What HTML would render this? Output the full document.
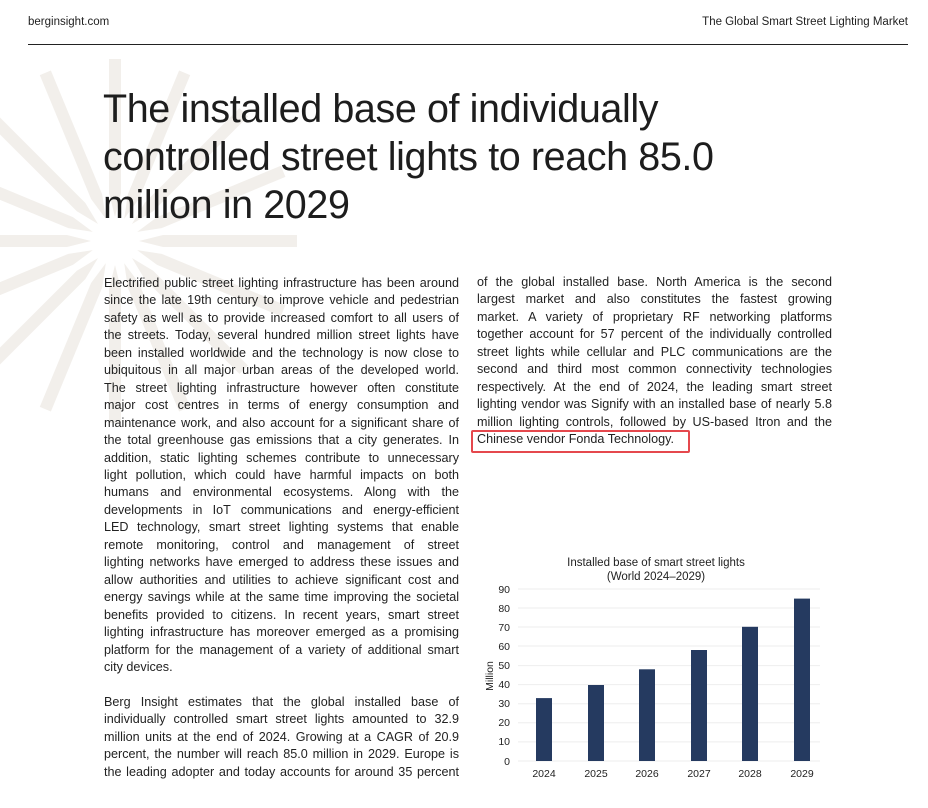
<!DOCTYPE html>
<html><head><meta charset="utf-8"><style>
*{margin:0;padding:0;box-sizing:border-box}
body{width:928px;height:808px;background:#fff;position:relative;overflow:hidden;font-family:"Liberation Sans",sans-serif;color:#222}
.hdr{position:absolute;top:16px;font-size:11.5px;color:#222}
.rule{position:absolute;left:28px;right:20px;top:44px;height:1px;background:#222}
h1{position:absolute;left:103px;top:85px;font-weight:normal;font-size:39.5px;line-height:48px;color:#1d1d1d;letter-spacing:-0.4px}
.col{position:absolute;font-size:12.6px;line-height:17.45px;color:#222}
.col div{text-align:justify;text-align-last:justify;white-space:nowrap;overflow:visible}
.col div.l{text-align-last:left}
</style></head><body>
<svg style="position:absolute;left:0;top:0" width="400" height="500">
<g fill="#f2efeb" id="rays"></g>
</svg>
<script>
var g=document.getElementById('rays'),cx=115,cy=241,s='';
for(var i=0;i<16;i++){var a=i*Math.PI/8;var rt=24,r0=48,r1=182,w=6;
var c=Math.cos(a),sn=Math.sin(a),px=-sn,py=c;
var p=[[cx+c*rt,cy+sn*rt],[cx+c*r0+px*w,cy+sn*r0+py*w],[cx+c*r1+px*w,cy+sn*r1+py*w],[cx+c*r1-px*w,cy+sn*r1-py*w],[cx+c*r0-px*w,cy+sn*r0-py*w]];
s+='<polygon points="'+p.map(function(q){return q.join(',')}).join(' ')+'"/>';}
g.innerHTML=s;
</script>
<div class="hdr" style="left:28px">berginsight.com</div>
<div class="hdr" style="right:20px">The Global Smart Street Lighting Market</div>
<div class="rule"></div>
<h1>The installed base of individually<br>controlled street lights to reach 85.0<br>million in 2029</h1>
<div class="col" style="left:104px;top:275px;width:355px">
<div>Electrified public street lighting infrastructure has been around</div>
<div>since the late 19th century to improve vehicle and pedestrian</div>
<div>safety as well as to provide increased comfort to all users of</div>
<div>the streets. Today, several hundred million street lights have</div>
<div>been installed worldwide and the technology is now close to</div>
<div>ubiquitous in all major urban areas of the developed world.</div>
<div>The street lighting infrastructure however often constitute</div>
<div>major cost centres in terms of energy consumption and</div>
<div>maintenance work, and also account for a significant share of</div>
<div>the total greenhouse gas emissions that a city generates. In</div>
<div>addition, static lighting schemes contribute to unnecessary</div>
<div>light pollution, which could have harmful impacts on both</div>
<div>humans and environmental ecosystems. Along with the</div>
<div>developments in IoT communications and energy-efficient</div>
<div>LED technology, smart street lighting systems that enable</div>
<div>remote monitoring, control and management of street</div>
<div>lighting networks have emerged to address these issues and</div>
<div>allow authorities and utilities to achieve significant cost and</div>
<div>energy savings while at the same time improving the societal</div>
<div>benefits provided to citizens. In recent years, smart street</div>
<div>lighting infrastructure has moreover emerged as a promising</div>
<div>platform for the management of a variety of additional smart</div>
<div class="l">city devices.</div>
<div class="l">&nbsp;</div>
<div>Berg Insight estimates that the global installed base of</div>
<div>individually controlled smart street lights amounted to 32.9</div>
<div>million units at the end of 2024. Growing at a CAGR of 20.9</div>
<div>percent, the number will reach 85.0 million in 2029. Europe is</div>
<div>the leading adopter and today accounts for around 35 percent</div>
</div>
<div class="col" style="left:477px;top:274px;width:355px">
<div>of the global installed base. North America is the second</div>
<div>largest market and also constitutes the fastest growing</div>
<div>market. A variety of proprietary RF networking platforms</div>
<div>together account for 57 percent of the individually controlled</div>
<div>street lights while cellular and PLC communications are the</div>
<div>second and third most common connectivity technologies</div>
<div>respectively. At the end of 2024, the leading smart street</div>
<div>lighting vendor was Signify with an installed base of nearly 5.8</div>
<div>million lighting controls, followed by US-based Itron and the</div>
<div class="l">Chinese vendor Fonda Technology.</div>
</div>
<div style="position:absolute;left:471px;top:430px;width:219px;height:23px;border:2px solid #e5484d;border-radius:2px"></div>
<svg style="position:absolute;left:0;top:0" width="928" height="808" font-family="Liberation Sans, sans-serif" fill="#222">
<text x="656" y="566" font-size="11.5" text-anchor="middle">Installed base of smart street lights</text>
<text x="656" y="580" font-size="11.5" text-anchor="middle">(World 2024–2029)</text>
<g stroke="#eeeeee" stroke-width="1">
<line x1="518" x2="820" y1="589" y2="589"/><line x1="518" x2="820" y1="608" y2="608"/><line x1="518" x2="820" y1="627" y2="627"/><line x1="518" x2="820" y1="646" y2="646"/><line x1="518" x2="820" y1="665.6" y2="665.6"/><line x1="518" x2="820" y1="684.6" y2="684.6"/><line x1="518" x2="820" y1="703.7" y2="703.7"/><line x1="518" x2="820" y1="722.8" y2="722.8"/><line x1="518" x2="820" y1="741.9" y2="741.9"/><line x1="518" x2="820" y1="761" y2="761"/>
</g>
<g font-size="10.5" text-anchor="end">
<text x="510" y="593">90</text><text x="510" y="612">80</text><text x="510" y="631">70</text><text x="510" y="650">60</text><text x="510" y="669">50</text><text x="510" y="688">40</text><text x="510" y="707">30</text><text x="510" y="726">20</text><text x="510" y="745">10</text><text x="510" y="765">0</text>
</g>
<text transform="translate(493,676) rotate(-90)" font-size="10.5" text-anchor="middle">Million</text>
<g fill="#253a60">
<rect x="536" y="698.1" width="16" height="62.9"/>
<rect x="588" y="685" width="16" height="76"/>
<rect x="639" y="669.3" width="16" height="91.7"/>
<rect x="691" y="650" width="16" height="111"/>
<rect x="742" y="626.8" width="16" height="134.2"/>
<rect x="794" y="598.6" width="16" height="162.4"/>
</g>
<g font-size="10.5" text-anchor="middle">
<text x="544" y="777">2024</text><text x="596" y="777">2025</text><text x="647" y="777">2026</text><text x="699" y="777">2027</text><text x="750" y="777">2028</text><text x="802" y="777">2029</text>
</g>
</svg>
</body></html>
